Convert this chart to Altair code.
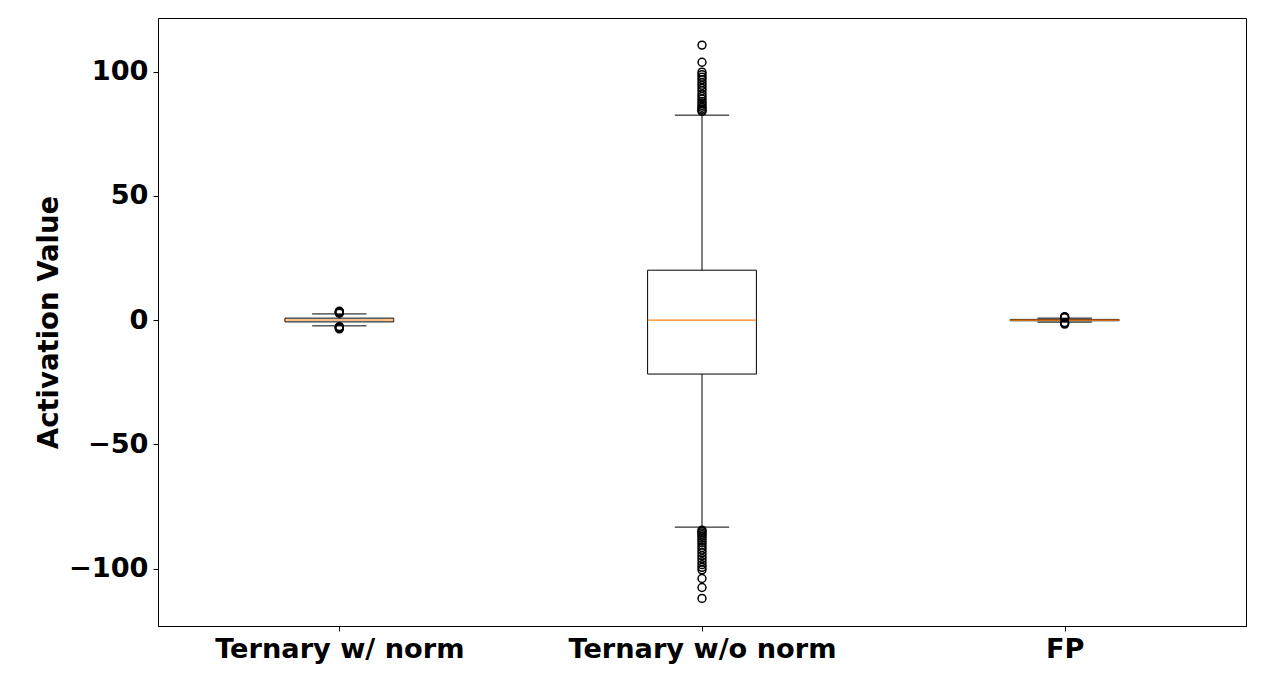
import altair as alt
import pandas as pd
import json

categories = ["Ternary w/ norm", "Ternary w/o norm", "FP"]
positions = [1, 2, 3]
q1 = [-0.7, -21.7, -0.25]
median = [0.05, 0.0, 0.0]
q3 = [0.8, 20.1, 0.3]
whisk_lo = [-2.3, -83.3, -0.8]
whisk_hi = [2.5, 82.5, 0.8]

outliers_norm = [2.8, 3.0, 3.2, 3.4, 3.6, -2.6, -2.8, -3.0, -3.2, -3.5]
outliers_nonorm = [110.7, 103.8, 99.8, 98.8, 97.8, 96.8, 95.6, 94.5, 93.4, 92.3, 91.0,
                   90.0, 89.0, 88.0, 87.2, 86.4, 85.7, 85.0, 84.5, 84.0,
                   -84.5, -85.0, -85.6, -86.3, -87.0, -87.8, -88.7, -89.6, -90.5,
                   -91.5, -92.5, -93.6, -94.8, -96.0, -97.2, -98.4, -99.5, -100.5,
                   -104.0, -107.6, -112.0]
outliers_fp = [1.0, 1.2, 1.4, -1.0, -1.3, -1.6]

box_half = 0.15
cap_half = 0.075

stats = pd.DataFrame({
    "pos": positions, "cat": categories, "q1": q1, "med": median, "q3": q3,
    "lo": whisk_lo, "hi": whisk_hi,
})
out_rows = []
for p, vals in zip(positions, [outliers_norm, outliers_nonorm, outliers_fp]):
    for v in vals:
        out_rows.append({"pos": p, "val": v})
outs = pd.DataFrame(out_rows)

label_expr = json.dumps(categories) + "[datum.value - 1]"

xscale = alt.Scale(domain=[0.5, 3.5], nice=False, zero=False)
yscale = alt.Scale(domain=[-123.1, 121.6], nice=False, zero=False)
xaxis = alt.Axis(values=positions, labelExpr=label_expr, title=None, grid=False)
yaxis = alt.Axis(values=[-100, -50, 0, 50, 100], title="Activation Value", grid=False)


def X(field):
    return alt.X(field, type="quantitative", scale=xscale, axis=xaxis)


def Y(field):
    return alt.Y(field, type="quantitative", scale=yscale, axis=yaxis)


base = alt.Chart(stats).transform_calculate(
    xl=f"datum.pos - {box_half}", xr=f"datum.pos + {box_half}",
    cl=f"datum.pos - {cap_half}", cr=f"datum.pos + {cap_half}",
)

whisk = base.mark_rule(color="black", strokeWidth=1).encode(
    x=X("pos"), y=Y("lo"), y2="hi")
cap_hi = base.mark_rule(color="black", strokeWidth=1).encode(
    x=X("cl"), x2="cr", y=Y("hi"))
cap_lo = base.mark_rule(color="black", strokeWidth=1).encode(
    x=X("cl"), x2="cr", y=Y("lo"))
box = base.mark_rect(fill="white", stroke="black", strokeWidth=1).encode(
    x=X("xl"), x2="xr", y=Y("q1"), y2="q3")
med = base.mark_rule(color="#ff7f0e", strokeWidth=1.2).encode(
    x=X("xl"), x2="xr", y=Y("med"))
pts = alt.Chart(outs).mark_point(shape="circle", filled=False, color="black",
                                 size=62, strokeWidth=1.5, opacity=1).encode(
    x=X("pos"), y=Y("val"))

chart = alt.layer(whisk, cap_hi, cap_lo, box, med, pts).properties(
    width=1088, height=608,
    padding={"left": 150, "top": 10, "right": 9, "bottom": 50},
    autosize=alt.AutoSizeParams(type="none"),
).configure_view(
    stroke="black", strokeWidth=1
).configure_axis(
    labelFont="DejaVu Sans", labelFontWeight="bold", labelFontSize=27.2,
    labelColor="black", titleFont="DejaVu Sans", titleFontWeight="bold",
    titleFontSize=27.5, titleColor="black", domainColor="black", tickColor="black",
    tickSize=5, domainWidth=1, tickWidth=1, labelPadding=5, titlePadding=5,
    labelLimit=0,
)

chart.save("out.html", embed_options={"renderer": "svg", "actions": False})
